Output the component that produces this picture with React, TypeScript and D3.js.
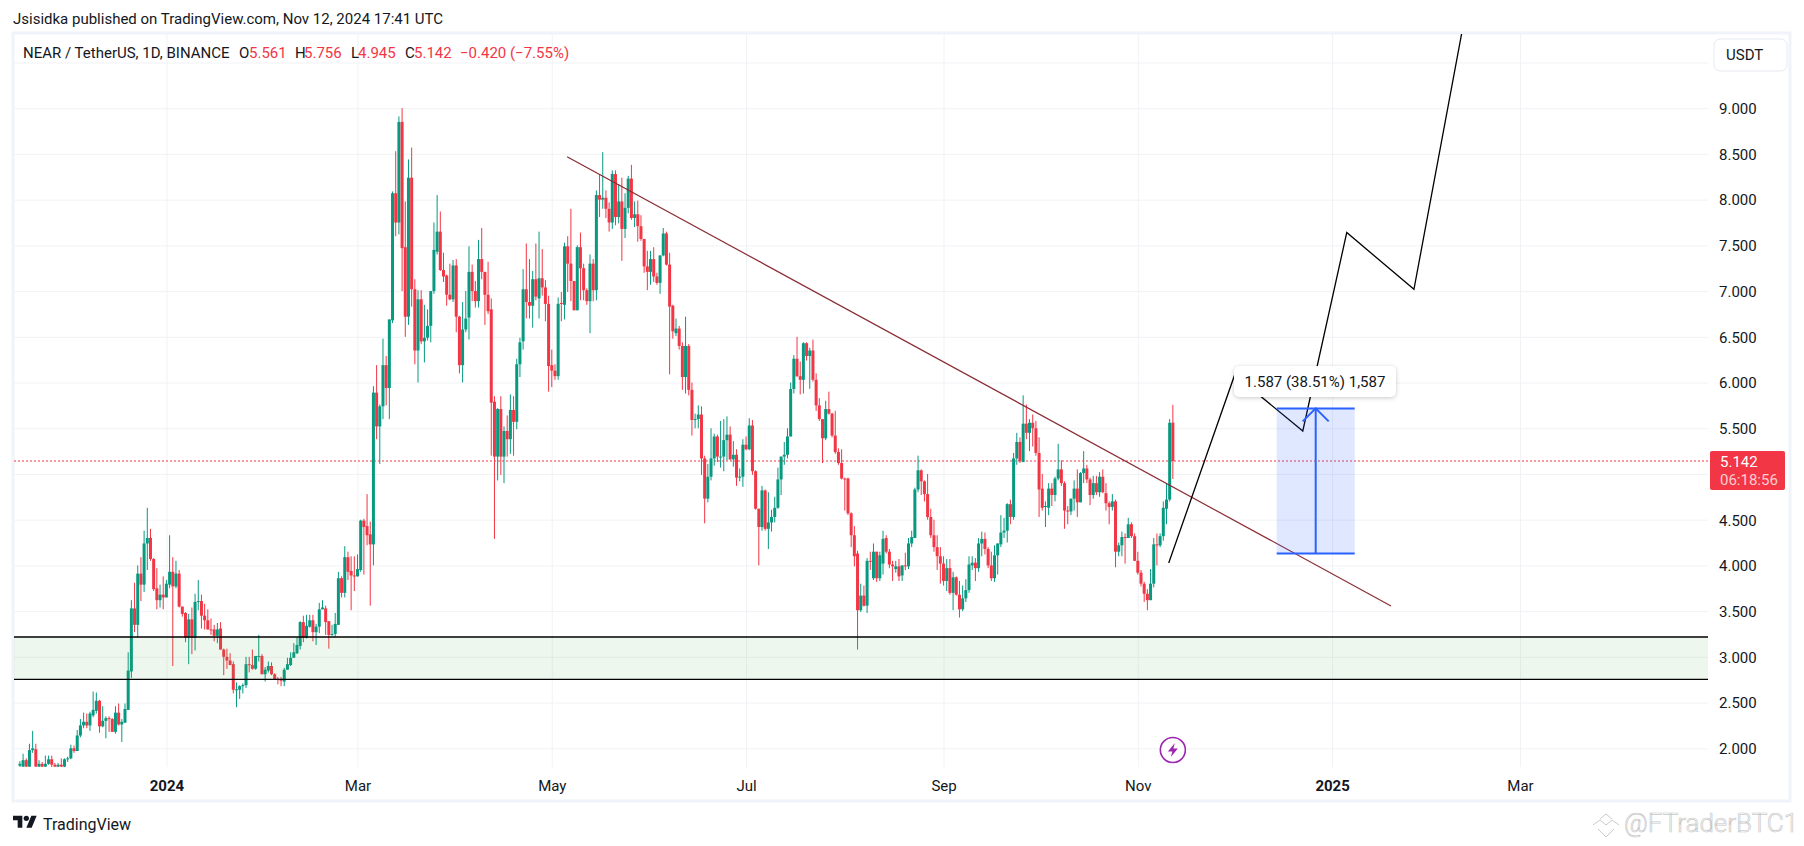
import * as d3 from "d3";
import { useEffect, useRef } from "react";

const WIDTH = 1804;
const HEIGHT = 846;

const firstCandle = Date.UTC(2023, 10, 16);
const DAY = 86400000;

const opens = [
  1.81, 1.80, 1.87, 1.80, 1.98, 1.99, 1.80, 1.83, 1.80, 1.83,
  1.88, 1.82, 1.80, 1.82, 1.80, 1.88, 1.89, 2.00, 1.97, 2.14,
  2.25, 2.29, 2.25, 2.36, 2.41, 2.52, 2.24, 2.30, 2.33, 2.32,
  2.18, 2.39, 2.26, 2.28, 2.42, 2.84, 3.53, 3.35, 3.91, 3.79,
  4.24, 4.30, 4.07, 3.75, 3.62, 3.68, 3.65, 3.79, 3.93, 3.77,
  3.91, 3.55, 3.48, 3.21, 3.41, 3.21, 3.60, 3.61, 3.45, 3.40,
  3.30, 3.30, 3.23, 3.31, 3.08, 3.00, 2.96, 2.92, 2.64, 2.64,
  2.68, 2.69, 2.92, 2.91, 2.87, 3.00, 3.01, 2.81, 2.85, 2.90,
  2.81, 2.76, 2.75, 2.73, 2.86, 2.91, 2.99, 3.04, 3.12, 3.38,
  3.21, 3.33, 3.40, 3.27, 3.33, 3.52, 3.53, 3.39, 3.24, 3.25,
  3.35, 3.86, 3.70, 4.09, 3.94, 3.89, 3.88, 3.95, 4.49, 4.43,
  4.34, 4.23, 5.89, 5.52, 5.74, 6.19, 5.94, 6.68, 8.07, 7.75,
  8.85, 7.48, 6.72, 8.24, 7.02, 6.35, 6.91, 6.45, 6.49, 6.62,
  7.00, 7.43, 7.65, 7.23, 7.17, 6.96, 6.91, 7.28, 6.72, 6.19,
  6.58, 6.71, 7.21, 7.00, 6.89, 7.35, 7.21, 6.96, 6.80, 5.79,
  5.19, 5.71, 5.19, 5.47, 5.38, 5.70, 5.57, 6.20, 6.45, 7.02,
  6.88, 6.84, 7.13, 6.92, 7.14, 7.04, 6.86, 6.19, 6.13, 6.07,
  6.87, 6.85, 7.49, 7.30, 7.11, 6.79, 7.48, 7.25, 7.01, 6.89,
  7.30, 7.01, 8.05, 8.00, 8.02, 7.90, 7.75, 8.28, 7.81, 7.98,
  7.68, 7.91, 8.23, 7.80, 7.84, 7.71, 7.57, 7.27, 7.21, 7.35,
  7.16, 7.09, 7.39, 7.63, 7.29, 6.84, 6.54, 6.59, 6.40, 6.06,
  6.40, 5.92, 5.59, 5.60, 5.65, 5.17, 4.73, 4.97, 5.17, 5.41,
  5.18, 5.19, 5.37, 5.43, 5.16, 5.21, 4.96, 4.97, 5.32, 5.27,
  5.53, 5.03, 4.62, 4.42, 4.82, 4.40, 4.47, 4.53, 4.63, 4.94,
  5.19, 5.21, 5.41, 5.93, 6.26, 6.07, 6.03, 6.43, 6.29, 6.35,
  6.03, 5.75, 5.60, 5.39, 5.71, 5.66, 5.42, 5.24, 5.12, 4.95,
  4.95, 4.57, 4.33, 4.13, 3.51, 3.67, 3.56, 4.05, 3.86, 4.15,
  3.86, 4.02, 4.30, 4.15, 4.01, 3.96, 3.99, 3.89, 4.00, 3.99,
  4.24, 4.30, 4.83, 5.04, 4.92, 4.78, 4.53, 4.33, 4.20, 4.10,
  4.02, 3.83, 3.97, 3.70, 3.87, 3.68, 3.52, 3.64, 3.73, 4.00,
  4.03, 3.97, 4.24, 4.29, 4.18, 4.00, 3.86, 4.11, 4.23, 4.36,
  4.38, 4.67, 4.53, 5.17, 5.35, 5.13, 5.55, 5.45, 5.56, 5.50,
  5.23, 4.84, 4.64, 4.63, 4.84, 4.77, 4.95, 5.05, 4.90, 4.60,
  4.59, 4.73, 4.84, 4.69, 5.01, 5.06, 4.94, 4.77, 4.90, 4.80,
  4.97, 4.79, 4.68, 4.64, 4.70, 4.15, 4.22, 4.31, 4.30, 4.45,
  4.32, 4.05, 3.92, 3.80, 3.69, 3.62, 3.80, 4.23, 4.22, 4.32,
  4.62, 4.72, 5.561,
];

const highs = [
  1.86, 1.94, 1.89, 2.05, 2.19, 2.05, 1.87, 1.85, 1.92, 1.92,
  1.92, 1.84, 1.84, 1.89, 1.89, 1.91, 2.04, 2.03, 2.20, 2.32,
  2.39, 2.38, 2.40, 2.62, 2.61, 2.53, 2.46, 2.35, 2.35, 2.33,
  2.46, 2.49, 2.32, 2.49, 3.05, 3.62, 3.81, 4.00, 4.09, 4.38,
  4.63, 4.40, 4.08, 3.97, 3.79, 3.88, 3.84, 4.33, 4.09, 4.05,
  3.95, 3.55, 3.49, 3.47, 3.54, 3.69, 3.84, 3.68, 3.58, 3.52,
  3.42, 3.35, 3.37, 3.38, 3.09, 3.09, 3.04, 2.95, 2.72, 2.69,
  2.71, 3.00, 3.00, 3.08, 3.01, 3.24, 3.03, 2.89, 2.95, 2.94,
  2.82, 2.78, 2.78, 2.88, 2.99, 3.05, 3.15, 3.21, 3.39, 3.45,
  3.46, 3.46, 3.46, 3.36, 3.59, 3.62, 3.56, 3.39, 3.35, 3.48,
  3.93, 3.88, 4.21, 4.15, 4.10, 4.10, 4.12, 4.50, 4.51, 4.78,
  4.48, 5.96, 6.19, 5.76, 6.48, 6.29, 6.69, 8.09, 8.53, 8.91,
  9.00, 7.98, 8.44, 8.57, 7.13, 7.01, 7.01, 6.85, 6.80, 7.00,
  7.75, 8.05, 7.87, 7.42, 7.18, 7.30, 7.34, 7.35, 6.73, 6.88,
  7.00, 7.49, 7.29, 7.11, 7.56, 7.69, 7.21, 7.32, 6.92, 5.85,
  5.72, 5.85, 5.52, 5.64, 5.87, 5.85, 6.26, 6.49, 7.24, 7.52,
  7.35, 7.22, 7.52, 7.65, 7.46, 7.12, 6.95, 6.36, 6.20, 6.93,
  6.99, 7.53, 7.60, 7.90, 7.11, 7.50, 7.64, 7.30, 7.03, 7.40,
  7.35, 8.10, 8.28, 8.52, 8.10, 7.97, 8.32, 8.32, 8.17, 8.24,
  8.07, 8.26, 8.38, 7.98, 7.99, 7.83, 7.57, 7.44, 7.44, 7.48,
  7.20, 7.39, 7.69, 7.65, 7.42, 6.85, 6.70, 6.62, 6.44, 6.72,
  6.42, 6.00, 5.66, 5.75, 5.74, 5.20, 5.11, 5.50, 5.44, 5.43,
  5.58, 5.60, 5.63, 5.52, 5.36, 5.27, 5.06, 5.38, 5.41, 5.61,
  5.59, 5.04, 4.62, 4.87, 4.83, 4.80, 4.61, 4.75, 5.07, 5.19,
  5.35, 5.50, 6.00, 6.30, 6.50, 6.23, 6.44, 6.44, 6.38, 6.47,
  6.10, 5.83, 5.60, 5.80, 5.90, 5.67, 5.69, 5.28, 5.27, 4.96,
  4.96, 4.58, 4.43, 4.16, 3.80, 3.78, 4.08, 4.15, 4.24, 4.15,
  4.15, 4.38, 4.33, 4.18, 4.05, 4.05, 4.07, 4.00, 4.14, 4.30,
  4.38, 4.85, 5.20, 5.05, 4.93, 5.00, 4.62, 4.50, 4.33, 4.20,
  4.10, 4.07, 4.07, 3.93, 3.88, 3.83, 3.78, 3.85, 4.10, 4.10,
  4.08, 4.30, 4.37, 4.36, 4.20, 4.15, 4.22, 4.24, 4.55, 4.52,
  4.68, 4.72, 5.23, 5.45, 5.40, 5.86, 5.76, 5.60, 5.65, 5.58,
  5.40, 5.00, 4.70, 4.90, 4.90, 4.97, 5.33, 5.15, 4.92, 4.65,
  4.73, 4.93, 5.05, 5.02, 5.25, 5.10, 4.96, 4.98, 4.98, 5.02,
  5.05, 4.90, 4.70, 4.78, 4.72, 4.25, 4.37, 4.35, 4.52, 4.47,
  4.35, 4.15, 3.95, 3.82, 3.74, 3.96, 4.30, 4.35, 4.35, 4.70,
  4.90, 5.60, 5.756,
];

const lows = [
  1.78, 1.78, 1.78, 1.78, 1.95, 1.78, 1.78, 1.78, 1.78, 1.82,
  1.78, 1.78, 1.78, 1.78, 1.78, 1.85, 1.88, 1.95, 1.97, 2.12,
  2.22, 2.22, 2.19, 2.34, 2.38, 2.17, 2.23, 2.11, 2.18, 2.18,
  2.16, 2.25, 2.07, 2.28, 2.42, 2.77, 3.27, 3.21, 3.61, 3.71,
  3.95, 4.05, 3.72, 3.52, 3.54, 3.52, 3.65, 3.75, 2.90, 3.75,
  3.54, 3.44, 3.16, 2.92, 3.03, 3.07, 3.51, 3.31, 3.30, 3.30,
  3.24, 3.17, 3.15, 3.08, 2.80, 2.87, 2.91, 2.60, 2.45, 2.54,
  2.60, 2.66, 2.83, 2.86, 2.86, 2.95, 2.81, 2.73, 2.83, 2.80,
  2.75, 2.70, 2.68, 2.68, 2.86, 2.90, 2.99, 3.03, 3.08, 3.16,
  3.20, 3.32, 3.17, 3.13, 3.26, 3.52, 3.24, 3.09, 3.23, 3.22,
  3.35, 3.65, 3.65, 3.84, 3.51, 3.72, 3.88, 3.93, 3.90, 4.22,
  3.56, 4.00, 5.38, 5.11, 5.60, 5.75, 5.60, 6.65, 7.60, 7.62,
  7.00, 6.50, 6.63, 6.83, 6.20, 6.00, 6.42, 6.22, 6.46, 6.44,
  6.97, 7.40, 7.22, 7.10, 6.84, 6.90, 6.88, 6.55, 6.10, 6.00,
  6.55, 6.47, 6.89, 6.82, 6.82, 7.13, 6.63, 6.75, 5.20, 4.29,
  4.93, 4.99, 4.90, 5.19, 5.22, 5.20, 5.49, 6.06, 6.36, 6.70,
  6.70, 6.60, 6.90, 6.70, 6.95, 6.67, 5.90, 5.95, 6.03, 6.03,
  6.67, 6.69, 6.99, 6.89, 6.79, 6.79, 6.90, 6.90, 6.85, 6.54,
  6.89, 6.90, 7.81, 7.90, 7.80, 7.65, 7.68, 7.72, 7.74, 7.33,
  7.58, 7.85, 7.78, 7.70, 7.54, 7.55, 7.20, 7.01, 7.07, 7.10,
  7.07, 6.97, 7.38, 7.28, 6.09, 6.48, 6.51, 6.36, 5.92, 5.88,
  5.86, 5.42, 5.50, 5.50, 4.99, 4.46, 4.69, 4.93, 5.09, 5.13,
  5.07, 5.03, 5.15, 5.15, 5.08, 4.87, 4.92, 4.86, 5.26, 5.26,
  4.99, 4.61, 4.00, 4.38, 4.38, 4.18, 4.37, 4.47, 4.62, 4.77,
  5.10, 5.17, 5.41, 5.88, 6.06, 5.87, 5.88, 6.24, 5.93, 6.01,
  5.69, 5.58, 5.12, 5.37, 5.65, 5.40, 5.22, 5.10, 4.94, 4.60,
  4.55, 4.20, 3.99, 3.08, 3.49, 3.55, 3.48, 3.95, 3.84, 3.82,
  3.83, 3.90, 4.13, 3.97, 3.83, 3.92, 3.83, 3.83, 3.95, 3.96,
  4.20, 4.30, 4.80, 4.77, 4.70, 4.50, 4.30, 4.15, 3.95, 3.80,
  3.78, 3.72, 3.68, 3.51, 3.67, 3.43, 3.50, 3.60, 3.70, 3.95,
  3.83, 3.93, 4.10, 4.12, 3.97, 3.83, 3.82, 3.90, 4.20, 4.30,
  4.25, 4.45, 4.50, 5.10, 5.12, 5.13, 5.38, 5.25, 5.30, 5.20,
  4.53, 4.60, 4.42, 4.55, 4.65, 4.70, 4.93, 4.87, 4.40, 4.45,
  4.55, 4.60, 4.53, 4.69, 4.90, 4.90, 4.66, 4.73, 4.77, 4.75,
  4.79, 4.60, 4.45, 4.60, 3.98, 4.10, 4.10, 4.02, 4.30, 4.30,
  4.05, 3.90, 3.77, 3.60, 3.51, 3.62, 3.76, 4.00, 4.20, 4.27,
  4.45, 4.70, 4.945,
];

const closes = [
  1.83, 1.87, 1.80, 1.98, 2.00, 1.80, 1.83, 1.80, 1.83, 1.88,
  1.82, 1.80, 1.82, 1.80, 1.88, 1.89, 2.00, 1.97, 2.14, 2.25,
  2.29, 2.25, 2.38, 2.42, 2.52, 2.24, 2.30, 2.33, 2.32, 2.18,
  2.39, 2.26, 2.29, 2.43, 2.85, 3.53, 3.35, 3.91, 3.79, 4.24,
  4.30, 4.07, 3.74, 3.62, 3.68, 3.65, 3.80, 3.93, 3.77, 3.91,
  3.55, 3.47, 3.21, 3.41, 3.21, 3.60, 3.61, 3.45, 3.40, 3.30,
  3.29, 3.23, 3.30, 3.08, 3.00, 2.96, 2.91, 2.64, 2.645, 2.68,
  2.69, 2.92, 2.91, 2.87, 3.01, 3.01, 2.81, 2.86, 2.90, 2.81,
  2.75, 2.75, 2.74, 2.86, 2.92, 2.99, 3.05, 3.13, 3.38, 3.21,
  3.34, 3.40, 3.27, 3.33, 3.52, 3.54, 3.38, 3.24, 3.25, 3.36,
  3.86, 3.70, 4.09, 3.93, 3.89, 3.88, 3.96, 4.49, 4.42, 4.33,
  4.23, 5.89, 5.52, 5.74, 6.19, 5.94, 6.69, 8.07, 7.75, 8.85,
  7.47, 6.72, 8.24, 7.02, 6.35, 6.91, 6.45, 6.49, 6.62, 7.00,
  7.45, 7.65, 7.23, 7.16, 6.96, 6.91, 7.28, 6.72, 6.19, 6.58,
  6.70, 7.21, 7.00, 6.89, 7.35, 7.21, 6.96, 6.78, 5.78, 5.19,
  5.71, 5.19, 5.47, 5.38, 5.70, 5.57, 6.20, 6.44, 7.02, 6.88,
  6.84, 7.13, 6.94, 7.14, 7.04, 6.86, 6.18, 6.13, 6.07, 6.86,
  6.86, 7.49, 7.30, 7.11, 6.79, 7.48, 7.25, 7.01, 6.89, 7.30,
  7.01, 8.05, 8.00, 8.02, 7.90, 7.75, 8.28, 7.81, 7.98, 7.68,
  7.91, 8.23, 7.80, 7.84, 7.71, 7.57, 7.27, 7.21, 7.35, 7.16,
  7.09, 7.39, 7.63, 7.29, 6.83, 6.56, 6.59, 6.40, 6.06, 6.40,
  5.92, 5.59, 5.60, 5.65, 5.17, 4.73, 4.97, 5.17, 5.41, 5.19,
  5.19, 5.37, 5.43, 5.16, 5.21, 4.96, 4.97, 5.32, 5.27, 5.53,
  5.03, 4.62, 4.42, 4.82, 4.40, 4.47, 4.53, 4.63, 4.94, 5.19,
  5.21, 5.41, 5.93, 6.26, 6.07, 6.03, 6.43, 6.29, 6.35, 6.03,
  5.75, 5.60, 5.39, 5.71, 5.66, 5.42, 5.24, 5.12, 4.95, 4.94,
  4.57, 4.33, 4.10, 3.51, 3.67, 3.56, 4.05, 4.04, 4.15, 3.86,
  4.11, 4.29, 4.15, 4.01, 3.99, 3.99, 3.88, 4.00, 3.99, 4.24,
  4.31, 4.83, 5.04, 4.92, 4.78, 4.53, 4.33, 4.20, 4.10, 4.02,
  3.83, 3.97, 3.70, 3.87, 3.68, 3.52, 3.64, 3.73, 4.01, 4.03,
  3.97, 4.24, 4.29, 4.18, 4.00, 3.86, 4.11, 4.24, 4.36, 4.38,
  4.67, 4.53, 5.17, 5.35, 5.14, 5.55, 5.45, 5.56, 5.50, 5.23,
  4.83, 4.63, 4.65, 4.84, 4.77, 4.95, 5.05, 4.90, 4.60, 4.59,
  4.73, 4.84, 4.69, 5.01, 5.06, 4.94, 4.77, 4.90, 4.80, 4.97,
  4.80, 4.68, 4.64, 4.70, 4.15, 4.22, 4.31, 4.30, 4.45, 4.32,
  4.05, 3.92, 3.80, 3.69, 3.62, 3.80, 4.23, 4.22, 4.32, 4.63,
  4.72, 5.56, 5.142,
];

// 5.000 has a grid line but its label sits behind the last price tag
const priceTicks = [2, 2.5, 3, 3.5, 4, 4.5, 5.5, 6, 6.5, 7, 7.5, 8, 8.5, 9];
const gridPrices = [...priceTicks, 5, 9.5];
const timeTicks = [
  Date.UTC(2024, 0, 1),
  Date.UTC(2024, 2, 1),
  Date.UTC(2024, 4, 1),
  Date.UTC(2024, 6, 1),
  Date.UTC(2024, 8, 1),
  Date.UTC(2024, 10, 1),
  Date.UTC(2025, 0, 1),
  Date.UTC(2025, 2, 1),
];
const timeLabels = ["2024", "Mar", "May", "Jul", "Sep", "Nov", "2025", "Mar"];

const lastPrice = 5.142;
const supportZone = [3.217, 2.754];
// days since 2024-01-01, price
const trendLine: [number, number][] = [[125.8, 8.47], [384.5, 3.557]];
const projection: [number, number][] = [
  [314.7, 4.026], [335.4, 6.083], [356.8, 5.47], [370.6, 7.64], [391.7, 7.02], [406.8, 9.84],
];
const measureDays = [348.6, 373.1];
const measurePrices = [4.13, 5.717];

const legendParts: [string, number, string][] = [
  ["NEAR / TetherUS, 1D, BINANCE", 23, "#131722"],
  ["O", 239, "#131722"],
  ["5.561", 249, "#f23645"],
  ["H", 295, "#131722"],
  ["5.756", 304, "#f23645"],
  ["L", 351, "#131722"],
  ["4.945", 358, "#f23645"],
  ["C", 405, "#131722"],
  ["5.142", 414, "#f23645"],
  ["\u22120.420 (\u22127.55%)", 460, "#f23645"],
];

const GREEN = "#089981";
const RED = "#f23645";
const GRID = "#f1f2f5";
const BORDER = "#f0f3fa";
const FONT = "Roboto, sans-serif";
const FONT_SIZE = 15;

const dayDate = (d: number) => Date.UTC(2024, 0, 1) + d * DAY;

const App = () => {
  const ref = useRef<SVGSVGElement>(null);

  useEffect(() => {
    if (!ref.current) return;
    document.body.style.margin = "0";
    const svg = d3.select(ref.current);
    svg.selectAll("*").remove();

    const pane = { left: 14, right: 1708, top: 34, bottom: 767 };

    const x = d3
      .scaleUtc()
      .domain([Date.UTC(2024, 0, 1), Date.UTC(2025, 0, 1)])
      .range([166.4, 1332.1]);
    const y = d3.scaleLinear().domain([2, 9]).range([748.3, 108.2]);

    svg.append("rect").attr("width", WIDTH).attr("height", HEIGHT).attr("fill", "#fff");

    svg
      .append("rect")
      .attr("x", 13)
      .attr("y", 33)
      .attr("width", 1777)
      .attr("height", 768)
      .attr("fill", "#fff")
      .attr("stroke", BORDER)
      .attr("stroke-width", 3);

    svg
      .append("defs")
      .append("clipPath")
      .attr("id", "pane")
      .append("rect")
      .attr("x", pane.left)
      .attr("y", pane.top)
      .attr("width", pane.right - pane.left)
      .attr("height", pane.bottom - pane.top);

    // grid, drawn with the axes' own ticks
    const gridH = svg
      .append("g")
      .attr("transform", `translate(${pane.left},0)`)
      .call(
        d3
          .axisRight(y)
          .tickValues(gridPrices)
          .tickSize(pane.right - pane.left)
          .tickFormat(() => "")
      );
    gridH.select(".domain").remove();
    gridH.selectAll("line").attr("stroke", GRID).attr("stroke-width", 1);

    const gridV = svg
      .append("g")
      .attr("transform", `translate(0,${pane.top})`)
      .call(
        d3
          .axisBottom(x)
          .tickValues(timeTicks.map((t) => new Date(t)))
          .tickSize(pane.bottom - pane.top)
          .tickFormat(() => "")
      );
    gridV.select(".domain").remove();
    gridV.selectAll("line").attr("stroke", GRID).attr("stroke-width", 1);

    const chart = svg.append("g").attr("clip-path", "url(#pane)");

    chart
      .append("line")
      .attr("x1", pane.left)
      .attr("x2", pane.right)
      .attr("y1", y(lastPrice))
      .attr("y2", y(lastPrice))
      .attr("stroke", RED)
      .attr("stroke-width", 1)
      .attr("stroke-dasharray", "2 2");

    const candles = closes.map((c, i) => ({
      date: firstCandle + i * DAY,
      o: opens[i],
      h: highs[i],
      l: lows[i],
      c,
    }));

    const candle = chart
      .selectAll(".candle")
      .data(candles)
      .enter()
      .append("g")
      .attr("class", "candle")
      .attr("fill", (d) => (d.c >= d.o ? GREEN : RED));

    candle
      .append("rect")
      .attr("x", (d) => x(d.date) - 0.5)
      .attr("width", 1)
      .attr("y", (d) => y(d.h))
      .attr("height", (d) => y(d.l) - y(d.h));

    candle
      .append("rect")
      .attr("x", (d) => x(d.date) - 1.5)
      .attr("width", 3)
      .attr("y", (d) => y(Math.max(d.o, d.c)))
      .attr("height", (d) => Math.max(1, Math.abs(y(d.o) - y(d.c))));

    // support zone
    chart
      .append("rect")
      .attr("x", pane.left)
      .attr("width", pane.right - pane.left)
      .attr("y", y(supportZone[0]))
      .attr("height", y(supportZone[1]) - y(supportZone[0]))
      .attr("fill", "#4caf50")
      .attr("fill-opacity", 0.1);
    supportZone.forEach((p) => {
      chart
        .append("line")
        .attr("x1", pane.left)
        .attr("x2", pane.right)
        .attr("y1", y(p))
        .attr("y2", y(p))
        .attr("stroke", "#000")
        .attr("stroke-width", 1.3);
    });

    const priceLine = d3
      .line<[number, number]>()
      .x((d) => x(dayDate(d[0])))
      .y((d) => y(d[1]));

    chart
      .append("path")
      .attr("d", priceLine(trendLine))
      .attr("fill", "none")
      .attr("stroke", "#8a2c35")
      .attr("stroke-width", 1.2);

    chart
      .append("path")
      .attr("d", priceLine(projection))
      .attr("fill", "none")
      .attr("stroke", "#000")
      .attr("stroke-width", 1.3);

    // price range tool
    const mx0 = x(dayDate(measureDays[0]));
    const mx1 = x(dayDate(measureDays[1]));
    const mid = (mx0 + mx1) / 2;
    const mTop = y(measurePrices[1]);
    const mBottom = y(measurePrices[0]);
    const blue = "#2962ff";
    chart
      .append("rect")
      .attr("x", mx0)
      .attr("width", mx1 - mx0)
      .attr("y", mTop)
      .attr("height", mBottom - mTop)
      .attr("fill", blue)
      .attr("fill-opacity", 0.15);
    [mTop, mBottom].forEach((v) => {
      chart
        .append("line")
        .attr("x1", mx0)
        .attr("x2", mx1)
        .attr("y1", v)
        .attr("y2", v)
        .attr("stroke", blue)
        .attr("stroke-width", 2);
    });
    chart
      .append("line")
      .attr("x1", mid)
      .attr("x2", mid)
      .attr("y1", mTop)
      .attr("y2", mBottom)
      .attr("stroke", blue)
      .attr("stroke-width", 2);
    chart
      .append("path")
      .attr("d", `M${mid - 13},${mTop + 13}L${mid},${mTop}L${mid + 13},${mTop + 13}`)
      .attr("fill", "none")
      .attr("stroke", blue)
      .attr("stroke-width", 2);

    // measure tooltip
    svg
      .append("rect")
      .attr("x", 1234)
      .attr("y", 366)
      .attr("width", 162)
      .attr("height", 31)
      .attr("rx", 5)
      .attr("fill", "#fff")
      .style("filter", "drop-shadow(0 1px 2px rgba(0,0,0,0.22))");
    svg
      .append("text")
      .attr("x", 1315)
      .attr("y", 386.5)
      .attr("text-anchor", "middle")
      .attr("font-family", FONT)
      .attr("font-size", FONT_SIZE)
      .attr("fill", "#131722")
      .text("1.587 (38.51%) 1,587");

    // price axis
    const yAxis = svg
      .append("g")
      .attr("transform", "translate(1719,0.5)")
      .call(
        d3
          .axisRight(y)
          .tickValues(priceTicks)
          .tickSize(0)
          .tickPadding(0)
          .tickFormat((d) => d3.format(".3f")(d as number))
      );
    yAxis.select(".domain").remove();
    yAxis
      .selectAll("text")
      .attr("font-family", FONT)
      .attr("font-size", FONT_SIZE)
      .attr("fill", "#131722");

    // time axis
    const xAxis = svg
      .append("g")
      .attr("transform", `translate(0,${pane.bottom})`)
      .call(
        d3
          .axisBottom(x)
          .tickValues(timeTicks.map((t) => new Date(t)))
          .tickSize(0)
          .tickPadding(13)
          .tickFormat((_, i) => timeLabels[i])
      );
    xAxis.select(".domain").remove();
    xAxis
      .selectAll<SVGTextElement, Date>("text")
      .attr("font-family", FONT)
      .attr("font-size", FONT_SIZE)
      .attr("fill", "#131722")
      .attr("font-weight", (_, i) => (timeLabels[i].length === 4 ? 700 : 400));

    // last price tag
    svg
      .append("rect")
      .attr("x", 1710)
      .attr("y", 451)
      .attr("width", 75)
      .attr("height", 39)
      .attr("rx", 2)
      .attr("fill", RED);
    svg
      .append("text")
      .attr("x", 1720)
      .attr("y", 467)
      .attr("font-family", FONT)
      .attr("font-size", FONT_SIZE)
      .attr("fill", "#fff")
      .text(lastPrice.toFixed(3));
    svg
      .append("text")
      .attr("x", 1720)
      .attr("y", 485)
      .attr("font-family", FONT)
      .attr("font-size", FONT_SIZE)
      .attr("fill", "#fff")
      .attr("fill-opacity", 0.75)
      .text("06:18:56");

    // currency button
    svg
      .append("rect")
      .attr("x", 1714)
      .attr("y", 39)
      .attr("width", 73)
      .attr("height", 32)
      .attr("rx", 6)
      .attr("fill", "#fff")
      .attr("stroke", "#e6e9f2");
    svg
      .append("text")
      .attr("x", 1726)
      .attr("y", 60)
      .attr("font-family", FONT)
      .attr("font-size", FONT_SIZE)
      .attr("fill", "#131722")
      .text("USDT");

    // published line and legend
    svg
      .append("text")
      .attr("x", 13)
      .attr("y", 24)
      .attr("font-family", FONT)
      .attr("font-size", FONT_SIZE)
      .attr("fill", "#131722")
      .text("Jsisidka published on TradingView.com, Nov 12, 2024 17:41 UTC");

    svg
      .selectAll(".legend")
      .data(legendParts)
      .enter()
      .append("text")
      .attr("class", "legend")
      .attr("x", (d) => d[1])
      .attr("y", 58)
      .attr("font-family", FONT)
      .attr("font-size", FONT_SIZE)
      .attr("fill", (d) => d[2])
      .text((d) => d[0]);

    // marker under the last candle
    const mark = svg
      .append("g")
      .attr("transform", `translate(${x(firstCandle + (closes.length - 1) * DAY)},750)`);
    mark
      .append("circle")
      .attr("r", 12.5)
      .attr("fill", "#fff")
      .attr("stroke", "#9c27b0")
      .attr("stroke-width", 1.6);
    mark
      .append("path")
      .attr("d", "M2,-7L-5,1.5H-0.5L-2,7L5,-1.5H0.5Z")
      .attr("fill", "#9c27b0");

    // TradingView logo
    const logo = svg.append("g").attr("transform", "translate(13,813) scale(0.667)");
    logo
      .append("path")
      .attr("d", "M14 22H7V11H0V4h14v18zM28 22h-8l7.5-18h8L28 22z")
      .attr("fill", "#131722");
    logo.append("circle").attr("cx", 20).attr("cy", 8).attr("r", 4).attr("fill", "#131722");
    svg
      .append("text")
      .attr("x", 43)
      .attr("y", 830)
      .attr("font-family", FONT)
      .attr("font-size", 16)
      .attr("fill", "#131722")
      .text("TradingView");

    // watermark
    svg
      .append("text")
      .attr("x", 1624)
      .attr("y", 832)
      .attr("font-family", FONT)
      .attr("font-size", 26)
      .attr("font-weight", 300)
      .attr("fill", "#fff")
      .attr("stroke", "#c9c9c9")
      .attr("stroke-width", 0.7)
      .text("@FTraderBTC1");
    const wm = svg
      .append("g")
      .attr("transform", "translate(1606,826)")
      .attr("fill", "none")
      .attr("stroke", "#c9c9c9")
      .attr("stroke-width", 1);
    ["M-6,-7L0,-12L6,-7", "M-13,-1L-6,-6L0,-1L6,-6L13,-1", "M-8,3L0,11L8,3"].forEach((d) => {
      wm.append("path").attr("d", d);
    });
  }, []);

  return <svg ref={ref} width={WIDTH} height={HEIGHT} style={{ display: "block" }} />;
};

export default App;
